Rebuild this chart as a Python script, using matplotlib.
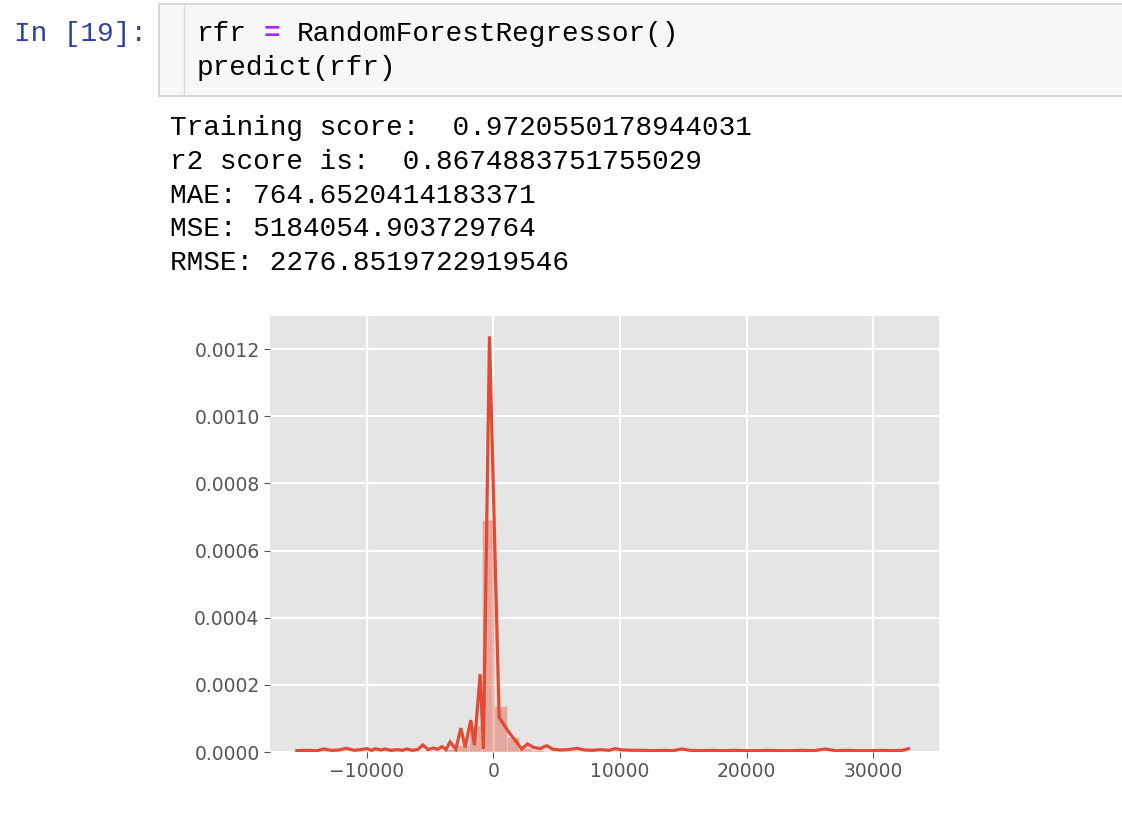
#!/usr/bin/env python3
# -*- coding: utf-8 -*-

"""
Capture d'une cellule Jupyter : RandomForestRegressor + distplot des résidus.
Le texte de la cellule et la sortie sont dessinés comme du texte, le graphe
dans un axes placé à la main.
"""

import numpy as np
import matplotlib
matplotlib.use('Agg')
import matplotlib.pyplot as plt
from matplotlib.patches import Rectangle

# ---------- Données ----------
code_lines = ["rfr = RandomForestRegressor()", "predict(rfr)"]
output_lines = [
    "Training score:  0.9720550178944031",
    "r2 score is:  0.8674883751755029",
    "MAE: 764.6520414183371",
    "MSE: 5184054.903729764",
    "RMSE: 2276.8519722919546",
]

# histogramme (densité), 49 classes de largeur 990 à partir de -15770
bin_start = -15770
bin_width = 990
hist_density = [
    0.000002, 0.000001, 0.000002, 0.000002, 0.000001, 0.000002, 0.000002,
    0.000002, 0.000002, 0.000002, 0.000002, 0.000003, 0.000008, 0.000022,
    0.000078, 0.000690, 0.000138, 0.000045, 0.000012, 0.000006, 0.000003,
    0.000002, 0.000002, 0.000002, 0.000001, 0.000002, 0.000001, 0.000001,
    0.000001, 0.000001, 0.000001, 0.000001, 0.000001, 0.000001, 0.000001,
    0.000001, 0.000001, 0.000001, 0.000001, 0.000001, 0.000001, 0.000002,
    0.000001, 0.000001, 0.000001, 0.000001, 0.000001, 0.000001, 0.000002,
]

# courbe KDE
kde_x = [
    -15520, -14700, -13900, -13420, -12800, -12200, -11630, -11000, -10500,
    -10000, -9600, -9340, -8900, -8550, -8100, -7600, -7200, -6840, -6400,
    -5950, -5570, -5150, -4760, -4400, -4070, -3750, -3420, -2970, -2570,
    -2230, -1790, -1500, -1050, -790, -310, 450, 1060, 1320, 1840, 2230,
    2690, 3160, 3690, 4210, 4700, 5300, 5900, 6590, 7200, 7800, 8500, 9100,
    9610, 10200, 11000, 11800, 12600, 13400, 14200, 14880, 15500, 16300,
    17200, 18100, 19000, 19900, 20800, 21700, 22600, 23500, 24400, 25300,
    26190, 27000, 27900, 28800, 29700, 30600, 31500, 32300, 32770,
]
kde_y = [
    0.000004, 0.000005, 0.000004, 0.000009, 0.000005, 0.000006, 0.000011,
    0.000005, 0.000007, 0.000010, 0.000005, 0.000010, 0.000006, 0.000009,
    0.000005, 0.000007, 0.000005, 0.000009, 0.000005, 0.000008, 0.000021,
    0.000007, 0.000012, 0.000008, 0.000016, 0.000007, 0.000030, 0.000008,
    0.000071, 0.000014, 0.000095, 0.000020, 0.000232, 0.000009, 0.001238,
    0.000103, 0.000068, 0.000054, 0.000029, 0.000009, 0.000024, 0.000014,
    0.000010, 0.000019, 0.000008, 0.000006, 0.000007, 0.000011, 0.000006,
    0.000005, 0.000007, 0.000005, 0.000010, 0.000006, 0.000005, 0.000005,
    0.000004, 0.000005, 0.000004, 0.000009, 0.000005, 0.000004, 0.000005,
    0.000004, 0.000005, 0.000004, 0.000004, 0.000005, 0.000004, 0.000004,
    0.000005, 0.000004, 0.000009, 0.000004, 0.000005, 0.000004, 0.000004,
    0.000005, 0.000004, 0.000005, 0.000010,
]

xticks = [-10000, 0, 10000, 20000, 30000]
yticks = [0.0, 0.0002, 0.0004, 0.0006, 0.0008, 0.0010, 0.0012]

# ---------- Mise en page ----------
W, H = 1122, 814
MONO = ["Liberation Mono", "DejaVu Sans Mono"]
RED = "#E24A33"


def px(x, y):
    """pixels (origine en haut à gauche) -> fraction de figure"""
    return x / W, 1 - y / H


def draw_cell(fig):
    fs = 20
    adv = 0.6 * fs * 100 / 72  # avance d'un caractère mono en px

    # boîte de la cellule de code
    x0, y0 = px(159, 96)
    fig.patches.append(Rectangle((x0, y0), (1140 - 159) / W, 92 / H,
                                 transform=fig.transFigure, facecolor="#F7F7F7",
                                 edgecolor="#CFCFCF", lw=1.2, zorder=0))
    fig.lines.append(plt.Line2D([184 / W, 184 / W], [px(0, 5)[1], px(0, 95)[1]],
                                transform=fig.transFigure, color="#DDDDDD", lw=1))

    fig.text(*px(14, 34), "In [19]:", family=MONO, fontsize=fs, color="#303F9F",
             va="center")
    # première ligne découpée autour du "=" coloré
    line = code_lines[0]
    k = line.index("=")
    left, right = line[:k].rstrip(), line[k + 1:].lstrip()
    fig.text(*px(197, 34), left, family=MONO, fontsize=fs,
             color="#000000", va="center")
    fig.text(*px(197 + k * adv, 34), "=", family=MONO, fontsize=fs,
             color="#AA22FF", weight="bold", va="center")
    fig.text(*px(197 + (k + 2) * adv, 34), right, family=MONO, fontsize=fs,
             color="#000000", va="center")
    fig.text(*px(197, 68), code_lines[1], family=MONO, fontsize=fs,
             color="#000000", va="center")

    for i, s in enumerate(output_lines):
        fig.text(*px(170, 128 + i * 33.8), s, family=MONO, fontsize=fs,
                 color="#000000", va="center")


def draw_plot(fig):
    ax = fig.add_axes([270 / W, 62 / H, 669 / W, 436.5 / H])
    edges = bin_start + bin_width * np.arange(len(hist_density) + 1)
    ax.hist(edges[:-1], bins=edges, weights=hist_density, color=RED, alpha=0.4,
            edgecolor="#EEEEEE", linewidth=0.5)
    ax.plot(kde_x, kde_y, color=RED, lw=2.3, solid_joinstyle="miter")

    ax.set_xlim(-17640, 35180)
    ax.set_ylim(0, 0.0013)
    ax.set_xticks(xticks)
    ax.set_yticks(yticks)
    ax.yaxis.set_major_formatter(matplotlib.ticker.FormatStrFormatter("%.4f"))
    ax.tick_params(labelsize=13.5, labelcolor="#555555", color="#555555",
                   length=4, direction="out")
    ax.grid(True, color="white", lw=1.5)
    ax.set_axisbelow(True)
    for sp in ax.spines.values():
        sp.set_visible(False)


# ---------- Main ----------
def main():
    plt.style.use("ggplot")
    fig = plt.figure(figsize=(W / 100, H / 100), dpi=100, facecolor="white")
    draw_cell(fig)
    draw_plot(fig)
    fig.savefig("out.png", dpi=100, facecolor="white")
    plt.close(fig)


if __name__ == "__main__":
    main()
